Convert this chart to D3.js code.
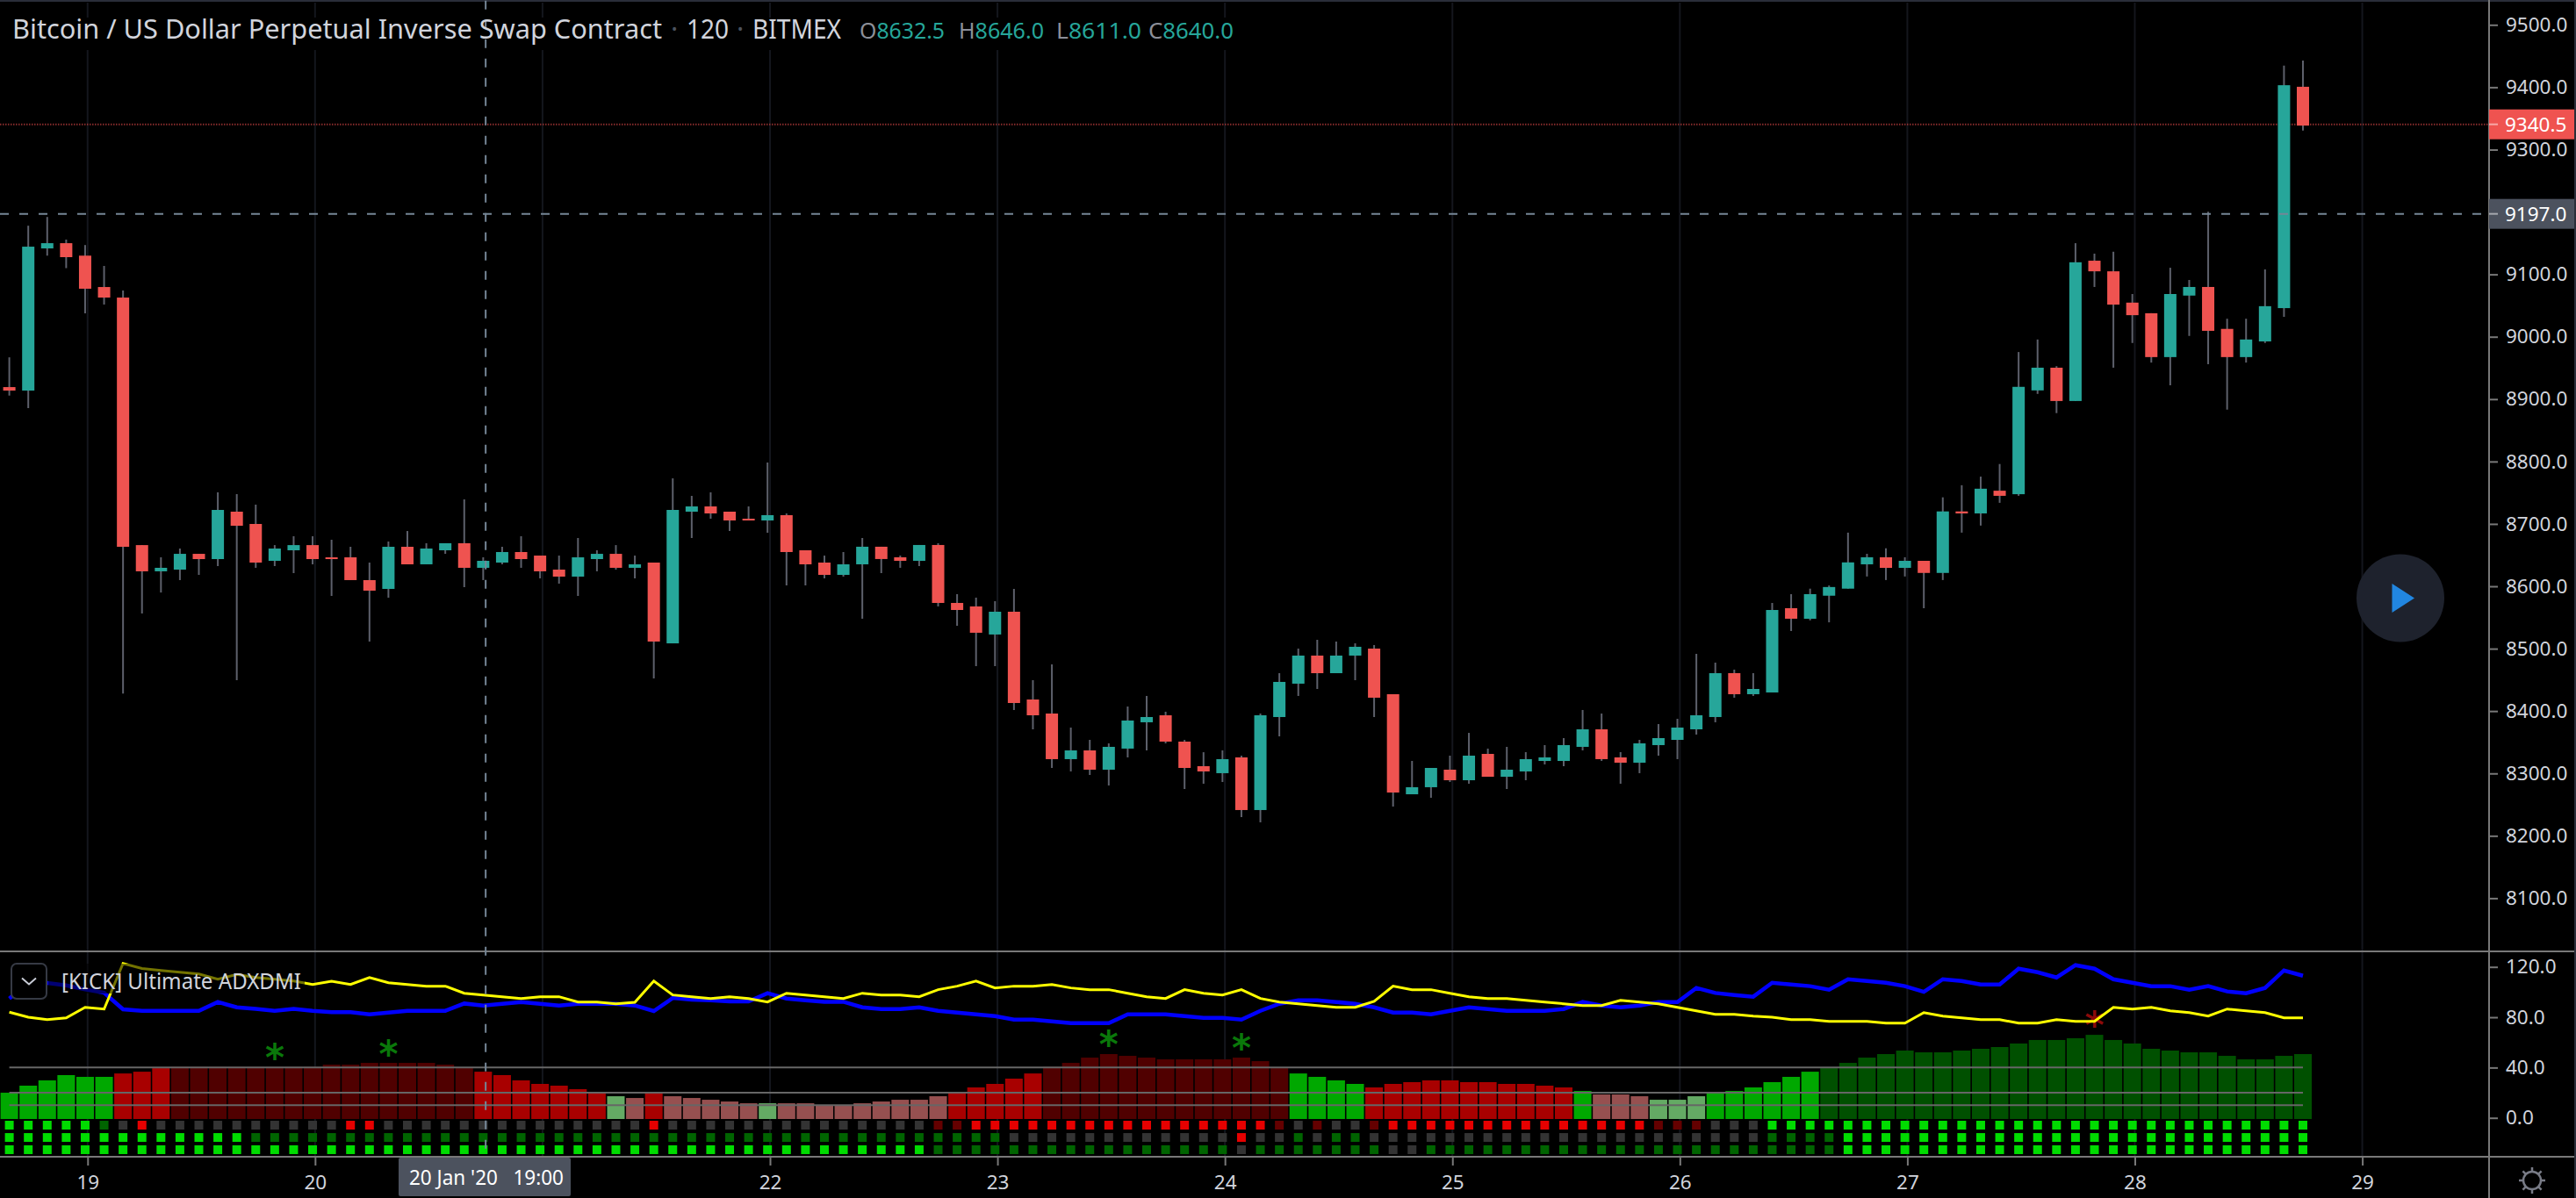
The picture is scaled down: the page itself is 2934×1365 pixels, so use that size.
<!DOCTYPE html>
<html>
<head>
<meta charset="utf-8">
<script src="https://cdn.jsdelivr.net/npm/d3@7"></script>
<style>
html, body { margin: 0; padding: 0; background: #000; }
svg { display: block; }
text { font-family: "Noto Sans", "Lato", sans-serif; }
</style>
</head>
<body>
<div id="chart"></div>
<script>
// candles, oldest first (2h bars)
var opens = [8919.3,8913.7,9141.6,9150,9130,9079.7,9062.8,8666,8624,8626.7,8652,8643.6,8719.6,8699.9,8640.8,8657.7,8666,8646.4,8646.4,8609.9,
	8595.8,8663.3,8635.2,8657.7,8669,8629.6,8638,8654.9,8649.2,8626.7,8615.5,8643.6,8652,8629.6,8638,8508.5,8719.6,8728,8719.6,8708.3,
	8705.5,8714,8657.7,8638,8618.3,8635.2,8663.4,8646.5,8640.8,8666.2,8573.3,8567.7,8522.7,8559.2,8418.5,8396,8322.9,8336.9,8306,8339.8,
	8382,8393.2,8351,8311.6,8300.4,8325.7,8241.3,8390.4,8443.9,8488.9,8460.7,8488.9,8500.1,8427,8266.6,8277.9,8306,8289.1,8331.3,8294.7,
	8303.2,8320,8320,8342.6,8370.7,8325.7,8317.2,8345.4,8353.8,8370.7,8390.4,8460.8,8427,8429.8,8564.9,8547.9,8584.9,8596.2,8635.2,8646.5,
	8629.5,8640.8,8621.4,8720,8716.8,8753.2,8747.6,8914,8950.4,8897,9121.9,9104.9,9054.7,9037.7,8967.4,9066,9079.8,9012.6,8967.4,8992.5,
	9045.9,9400.7];
var closes = [8913.7,9144.4,9150,9127.6,9077,9062.8,8663.3,8624,8629.6,8652,8643.6,8722.4,8697,8638,8660.5,8666,8643.6,8643.6,8609.9,8593,
	8663.3,8635.2,8660.5,8669,8629.6,8640.8,8654.9,8643.6,8624,8615.5,8646.4,8652,8629.6,8635.2,8511.4,8722.4,8728,8716.8,8705.5,8705.5,
	8714,8654.9,8635.2,8618.3,8635.2,8663.4,8643.7,8640.8,8666.2,8573.3,8562,8525.5,8559.2,8412.9,8393.2,8322.9,8336.9,8306,8342.6,8384.8,
	8390.4,8351,8308.8,8303.2,8322.9,8241.3,8393.2,8446.7,8488.9,8460.7,8488.9,8503,8421.4,8269.4,8277.9,8308.8,8289.1,8328.5,8294.7,8306,
	8322.9,8325.7,8345.4,8370.7,8322.9,8317.2,8348.2,8356.6,8373.5,8393.2,8460.7,8427,8435.4,8562,8548,8587.4,8598.8,8638.3,8646.5,8629.5,
	8640.8,8621.4,8720,8716.8,8756.4,8745,8919.7,8950.4,8897,9119.4,9104.9,9051.5,9034.6,8967.4,9068.5,9079.8,9009.5,8967.4,8995.6,9049,
	9403.2,9338.5];
var highs = [8967,9178,9192,9155.7,9147,9113.5,9074,8666,8646.4,8660.5,8652,8750.6,8747.7,8730.9,8666,8680.2,8680.2,8674.6,8663.3,8638,
	8671.8,8688.6,8669,8669,8739.3,8646.4,8663.3,8680.2,8649.2,8649.2,8677.4,8657.7,8666,8649.2,8638,8773,8744.9,8750.6,8719.6,8728,
	8798.4,8716.8,8657.7,8649.2,8654.9,8677.4,8663.4,8649.3,8666.2,8669,8587.4,8581.8,8576.1,8595.8,8449.5,8474.8,8373.5,8353.8,8348.2,8407.3,
	8424.2,8398.9,8353.8,8334,8336.9,8328.5,8396,8460.7,8500.1,8514.2,8511.4,8508.6,8505.8,8427,8320,8308.8,8328.5,8365,8339.8,8342.6,
	8334.1,8345.4,8356.6,8401.7,8396,8334.1,8353.8,8379.1,8387.6,8491.7,8477.6,8466.4,8460.8,8573.3,8587.4,8596.2,8601.3,8686,8652.1,8660.9,
	8646.5,8640.8,8742.6,8762,8775.8,8796,8975.5,8995.6,8952.9,9150,9133.2,9136.3,9068.5,9037.7,9110.6,9091,9200.4,9028.9,9028.9,9108,
	9434.6,9442.8];
var lows = [8905.7,8885.6,9130,9110,9037.5,9051.6,8428,8556.4,8590,8609.9,8618.3,8632.4,8449.5,8629.6,8632.4,8621.1,8635.2,8584.5,8609.9,8511.4,
	8581.7,8635.2,8635.2,8652,8598.6,8609.9,8635.2,8629.6,8612.7,8604.2,8584.5,8624,8626.7,8612.7,8452.3,8508.5,8677.4,8708.3,8688.6,8705.5,
	8685.8,8601.4,8601.4,8612.7,8615.5,8548,8621.1,8629.6,8632.4,8567.7,8536.7,8472,8472,8401.6,8370.7,8308.8,8303.2,8297.5,8280.7,8325.7,
	8336.9,8348.2,8275,8283.5,8286.3,8230,8221.6,8359.4,8424.2,8435.4,8460.7,8449.5,8390.4,8246.9,8266.6,8261,8286.3,8283.5,8294.7,8275,
	8289.1,8314.4,8311.6,8336.9,8320,8283.5,8300.4,8328.5,8322.9,8362.3,8382,8421.4,8424.2,8429.8,8528.3,8545.4,8542.2,8596.2,8615.7,8610,
	8615.7,8564.8,8610,8686,8697.3,8733.8,8745,8908.4,8877.6,8897,9079.8,8950.4,8990,8958.6,8922.2,9001.3,8956,8883.2,8958.6,8990,
	9032,9330.4];

// [KICK] Ultimate ADXDMI pane
var blueLine = [94.9,107.2,107.2,105.3,102.1,99.5,86.3,85.1,85.1,85.1,85.1,92.1,87.9,86.7,85.1,86.7,85.1,84,84,82.3,
	83.7,85.1,85.1,85.1,90.9,89.3,90.7,92.1,90.7,89.3,90.7,90.7,90.7,89.3,84.9,95.3,94,93.5,92.6,92.6,
	99.1,94.9,93.5,92.3,92.3,87.9,86.5,86.5,87.9,85.1,83.7,82.3,80.9,78.1,78.1,76.7,75.3,75.3,75.3,82.3,
	82.3,82.3,80.9,79.5,79.5,78.1,85.1,90.7,93.5,93.5,92.1,90.7,87.9,83.7,83.7,82.3,85.1,87.9,86.5,85.1,
	85.1,85.1,86.5,92.1,89.3,87.9,89.3,92.1,92.1,103.3,99.3,97.7,96.3,107.4,106,104.7,101.9,110.2,108.8,107.4,
	104.7,100.2,110.2,108.8,106,106,118.6,115.8,111.6,121.4,118.6,110.2,107.4,104.7,104.7,101.9,104.7,100.5,99.1,103.3,
	117.2,113];
var yellowLine = [84,80,78.1,79.5,87.9,86.5,122.8,118.8,117.2,115.8,114.4,110.2,114,111.6,110.2,108.8,106,108.6,106,111.6,
	107.4,106,104.7,104.7,99.1,97.7,96.3,94.9,96.3,96.3,92.1,92.1,90.7,91.9,108.8,97.7,96.3,94.9,96.3,94.9,
	92.1,99.1,97.7,96.3,94.9,99.1,97.7,97.7,96.3,101.9,104.7,108.8,103.3,104.7,104.7,106,103.3,101.9,101.9,99.1,
	96.3,94.9,101.9,99.1,97.7,101.9,94.9,92.1,90.7,89.3,87.9,87.9,92.6,104.7,101.9,101.9,99.1,96.3,94.9,94.9,
	93.5,92.1,90.7,89.3,89.3,93.5,92.1,90.7,87.9,85.1,82.3,82.3,80.9,80,78.1,78.1,76.7,76.7,76.7,75.3,
	75.3,83.7,80.9,79.5,78.1,78.1,75.3,75.3,78.1,76.7,76.7,87.9,86.5,87.9,85.1,83.7,80.9,86.5,85.1,83.7,
	79.5,79.5];
var histValues = [20,25.6,29.8,34,32.6,32.6,35.3,36.7,39.5,40.5,40.5,40.5,40.5,40.5,40.5,40.5,40.5,42.3,42.3,43.7,
	43.7,43.7,43.7,42.3,39.5,36.7,34,29.8,27,25.6,22.8,20,17.2,15.8,20,17.2,15.8,14.4,13,11.6,
	11.6,11.6,11.6,10.2,10.2,11.6,13,14.4,14.4,17.2,20,24.2,27,31.2,35.3,40.5,43.7,47.9,50.7,49.3,
	47.9,46.5,46.5,46.5,46.5,47.9,45.1,39.5,35.3,32.6,29.8,27,24.2,27,28.4,29.8,29.8,28.4,28.4,27,
	27,25.6,24.2,21.4,18.6,18.6,17.2,14.4,14.4,17.2,20,21.4,24.2,28.4,32.6,36.7,39.5,43.7,47.9,50.7,
	53.5,52.1,52.1,53.5,54.9,56.3,59.1,61.9,61.9,63.3,66,61.9,59.1,54.9,53.5,52.1,52.1,49.3,46.5,46.5,
	49.3,50.7];
// G green, E dark green, R red, D dark red, A faded red, B faded green
var histStates = ("GGGGGGRRRD" + "DDDDDDDDDD" + "DDDDDRRRRR" + "RRBARAAAAA" + "BAAAAAAAAA" + "RRRRRDDDDD" +
	"DDDDDDDDGG" + "GGRRRRRRRR" + "RRRGAAABBB" + "GGGGGGEEEE" + "EEEEEEEEEE" + "EEEEEEEEEE" + "EE").split("");
// the three rows of squares under the histogram
// G green, g dark green, K grey, R red, r dark red
var rowOne = ("GGGGGgKRKK" + "KKKKKKKKRR" + "KKKKKKKKKK" + "KKKKRKKKKK" + "KKKKKKKKKr" + "rRRRRRRRRR" +
	"RRRRRRRrKr" + "KKrRRRRRRR" + "RRRRRRRrrr" + "KKKGGGGGGG" + "GGGGGGGGGG" + "GGGGGGGGGG" + "GG").split("");
var rowTwo = ("GGGGGGGGGG" + "GGGggggggg" + "gggggggggg" + "gggggggggg" + "gggggggggg" + "gggKKKKKKK" +
	"KKKKKRKKgK" + "ggKKKKKKKK" + "KKKKKKKKKK" + "KKKggggGGG" + "GGGGGGGGGG" + "GGGGGGGGGG" + "GG").split("");
var rowThree = ("GGGGGGGGGG" + "GGGGGGGGGG" + "GGGGGGGGGG" + "GGGGGGGGGG" + "GGGGGGGGGg" + "gggggggggg" +
	"gggggKgggg" + "gggKKggggg" + "gggggggggg" + "gggggggGGG" + "GGGGGGGGGG" + "GGGGGGGGGG" + "GG").split("");
var rowLevels = [-5.8, -15.6, -25.3];
var starIndex = [14, 20, 58, 65, 110];
var starLevel = [53.7, 56.5, 63.7, 60.9, 79.3];
var starColor = ["#0a780a", "#0a780a", "#0a780a", "#0a780a", "#8c0a0a"];
var hLevels = [40, 20, 10];

// axes
var priceTicks = [8100,8200,8300,8400,8500,8600,8700,8800,8900,9000,9100,9200,9300,9400,9500];
var adxTicks = [0, 40, 80, 120];
var dayLabels = ["19","20","21","22","23","24","25","26","27","28","29"];
var dayBars = [4,16,28,40,52,64,76,88,100,112,124];
var lastPrice = 9340.5;
var crossPrice = 9197;
var crossBar = 25;

var histColors = {G:"#00a800", E:"#005000", R:"#a80000", D:"#500000", A:"#965050", B:"#64aa64"};
var squareColors = {G:"#00dc00", g:"#006400", K:"#333333", R:"#e60000", r:"#640000"};

var width = 2934, height = 1365;
var axisX = 2835, timeY = 1318, paneY = 1084;
var tickShift = 0.13; // day lines sit a little right of the bars

var x = d3.scaleLinear().domain([0, 121]).range([10.6, 2623]);
var yPrice = d3.scaleLinear().domain([8100, 9500]).range([1023.4, 28.3]);
var yAdx = d3.scaleLinear().domain([0, 120]).range([1273.7, 1101.7]);

var svg = d3.select("#chart").append("svg").attr("width", width).attr("height", height);
svg.append("rect").attr("width", width).attr("height", height).attr("fill", "#000");

// day grid
svg.append("g").selectAll("line").data(dayBars).join("line")
	.attr("x1", function(d) { return x(d + tickShift); })
	.attr("x2", function(d) { return x(d + tickShift); })
	.attr("y1", 3).attr("y2", timeY)
	.attr("stroke", "#14161d").attr("stroke-width", 2);

// legend backing hides the grid under the title
svg.append("rect").attr("x", 0).attr("y", 20).attr("width", 1420).attr("height", 37).attr("fill", "#000");

// last price line goes behind the candles
svg.append("line").attr("x1", 0).attr("x2", axisX)
	.attr("y1", yPrice(lastPrice)).attr("y2", yPrice(lastPrice))
	.attr("stroke", "#b83c3c").attr("stroke-width", 2).attr("stroke-dasharray", "1.5 1.5").attr("opacity", 0.75);

// candles
var bars = d3.range(opens.length);
svg.append("g").selectAll("line").data(bars).join("line")
	.attr("x1", function(i) { return x(i); })
	.attr("x2", function(i) { return x(i); })
	.attr("y1", function(i) { return yPrice(highs[i]); })
	.attr("y2", function(i) { return yPrice(lows[i]); })
	.attr("stroke", "#5d606b").attr("stroke-width", 2);
svg.append("g").selectAll("rect").data(bars).join("rect")
	.attr("x", function(i) { return x(i) - 7; })
	.attr("width", 14)
	.attr("y", function(i) { return yPrice(Math.max(opens[i], closes[i])); })
	.attr("height", function(i) { return Math.max(2, Math.abs(yPrice(opens[i]) - yPrice(closes[i]))); })
	.attr("fill", function(i) { return closes[i] >= opens[i] ? "#26a69a" : "#ef5350"; });

// histogram
svg.append("g").selectAll("rect").data(bars).join("rect")
	.attr("x", function(i) { return x(i) - 10; })
	.attr("width", 20)
	.attr("y", function(i) { return yAdx(histValues[i]); })
	.attr("height", function(i) { return yAdx(-0.9) - yAdx(histValues[i]); })
	.attr("fill", function(i) { return histColors[histStates[i]]; });

svg.append("g").selectAll("line").data(hLevels).join("line")
	.attr("x1", x(0)).attr("x2", x(121))
	.attr("y1", function(d) { return yAdx(d); })
	.attr("y2", function(d) { return yAdx(d); })
	.attr("stroke", "#666666").attr("stroke-width", 2);

// signal stars
svg.append("g").selectAll("text").data(starIndex).join("text")
	.attr("x", function(d) { return x(d); })
	.attr("y", function(d, n) { return yAdx(starLevel[n]) + 23; })
	.attr("text-anchor", "middle")
	.attr("fill", function(d, n) { return starColor[n]; })
	.style("font-family", "'DejaVu Sans'").style("font-size", "42px").style("font-weight", "bold")
	.text("*");

// adx / dmi lines
var adxLine = d3.line().x(function(d, i) { return x(i); }).y(function(d) { return yAdx(d); });
svg.append("path").attr("d", adxLine(blueLine)).attr("fill", "none").attr("stroke", "#0000ff").attr("stroke-width", 4.5);
svg.append("path").attr("d", adxLine(yellowLine)).attr("fill", "none").attr("stroke", "#ffff00").attr("stroke-width", 3);

// squares
[rowOne, rowTwo, rowThree].forEach(function(row, r) {
	svg.append("g").selectAll("rect").data(row).join("rect")
		.attr("x", function(d, i) { return x(i) - 5; })
		.attr("width", 10)
		.attr("y", yAdx(rowLevels[r]) - 5)
		.attr("height", 10)
		.attr("fill", function(d) { return squareColors[d]; });
});

// frame
svg.append("rect").attr("x", 0).attr("y", 0).attr("width", width).attr("height", 2).attr("fill", "#2a2e39");
svg.append("rect").attr("x", 2932).attr("y", 0).attr("width", 2).attr("height", height).attr("fill", "#2a2e39");
svg.append("line").attr("x1", 0).attr("x2", 2932).attr("y1", paneY).attr("y2", paneY).attr("stroke", "#787878").attr("stroke-width", 2);
svg.append("line").attr("x1", 0).attr("x2", 2932).attr("y1", timeY).attr("y2", timeY).attr("stroke", "#787878").attr("stroke-width", 2);
svg.append("line").attr("x1", axisX).attr("x2", axisX).attr("y1", 0).attr("y2", height).attr("stroke", "#787878").attr("stroke-width", 2);

// axes
function styleAxis(g) {
	g.select(".domain").remove();
	g.selectAll(".tick line").attr("stroke", "#787878").attr("stroke-width", 2);
	g.selectAll(".tick text").attr("fill", "#d1d4dc").style("font-size", "22.5px").style("font-family", "Noto Sans");
}
svg.append("g").attr("transform", "translate(" + axisX + ",0)")
	.call(d3.axisRight(yPrice).tickValues(priceTicks).tickFormat(d3.format(".1f")).tickSize(10).tickPadding(9))
	.call(styleAxis);
svg.append("g").attr("transform", "translate(" + axisX + ",0)")
	.call(d3.axisRight(yAdx).tickValues(adxTicks).tickFormat(d3.format(".1f")).tickSize(10).tickPadding(9))
	.call(styleAxis);
svg.append("g").attr("transform", "translate(0," + timeY + ")")
	.call(d3.axisBottom(x).tickValues(dayBars.map(function(d) { return d + tickShift; }))
		.tickFormat(function(d, n) { return dayLabels[n] == "21" ? "" : dayLabels[n]; }).tickSize(10).tickPadding(11))
	.call(styleAxis);

// crosshair
var crossX = x(crossBar + tickShift);
svg.append("line").attr("x1", crossX).attr("x2", crossX).attr("y1", 0.7).attr("y2", timeY)
	.attr("stroke", "#758696").attr("stroke-width", 2).attr("stroke-dasharray", "10 12");
svg.append("line").attr("x1", 0).attr("x2", axisX).attr("y1", yPrice(crossPrice)).attr("y2", yPrice(crossPrice))
	.attr("stroke", "#758696").attr("stroke-width", 2).attr("stroke-dasharray", "10 12");

// price and time tags
function priceTag(price, fill) {
	var yy = yPrice(price);
	svg.append("rect").attr("x", axisX).attr("y", yy - 17).attr("width", 97).attr("height", 34).attr("fill", fill);
	svg.append("line").attr("x1", axisX).attr("x2", axisX + 10).attr("y1", yy).attr("y2", yy).attr("stroke", "#fff").attr("stroke-opacity", 0.5).attr("stroke-width", 2);
	svg.append("text").attr("x", axisX + 18).attr("y", yy + 8.5).attr("fill", "#fff").style("font-size", "22.5px").text(d3.format(".1f")(price));
}
priceTag(lastPrice, "#ef5350");
priceTag(crossPrice, "#4c525e");

svg.append("rect").attr("x", 454).attr("y", 1319).attr("width", 196).attr("height", 44).attr("rx", 2).attr("fill", "#4c525e");
svg.append("text").attr("x", 466).attr("y", 1350).attr("fill", "#fff").style("font-size", "23px")
	.attr("textLength", 176).attr("lengthAdjust", "spacingAndGlyphs").attr("xml:space", "preserve").text("20 Jan '20   19:00");

// title legend
function titlePart(str, px, len, fill, size) {
	var t = svg.append("text").attr("x", px).attr("y", 44).attr("fill", fill).style("font-size", size + "px").text(str);
	if (len) t.attr("textLength", len).attr("lengthAdjust", "spacingAndGlyphs");
}
titlePart("Bitcoin / US Dollar Perpetual Inverse Swap Contract", 14, 740, "#d1d4dc", 31);
titlePart("\u00b7", 764, 0, "#4c525e", 31);
titlePart("120", 782, 48, "#d1d4dc", 31);
titlePart("\u00b7", 839, 0, "#4c525e", 31);
titlePart("BITMEX", 857, 101, "#d1d4dc", 31);
var ohlcLabels = ["O", "H", "L", "C"];
var ohlcValues = ["8632.5", "8646.0", "8611.0", "8640.0"];
var ohlcX = [979, 1092, 1203, 1308];
ohlcLabels.forEach(function(l, n) {
	var t = svg.append("text").attr("x", ohlcX[n]).attr("y", 44).style("font-size", "26px")
		.attr("textLength", 97).attr("lengthAdjust", "spacingAndGlyphs");
	t.append("tspan").attr("fill", "#8c8f98").text(l);
	t.append("tspan").attr("fill", "#26a69a").text(ohlcValues[n]);
});

// indicator legend
svg.append("rect").attr("x", 55).attr("y", 1098).attr("width", 292).attr("height", 34).attr("fill", "#000").attr("opacity", 0.55);
svg.append("rect").attr("x", 13).attr("y", 1098).attr("width", 40).attr("height", 40).attr("rx", 6)
	.attr("fill", "#000").attr("stroke", "#363a45").attr("stroke-width", 2);
svg.append("path").attr("d", "M25,1114.5L33,1121.5L41,1114.5").attr("fill", "none").attr("stroke", "#c8ccd6").attr("stroke-width", 2);
svg.append("text").attr("x", 70).attr("y", 1127).attr("fill", "#d1d4dc").style("font-size", "26px")
	.attr("textLength", 273).attr("lengthAdjust", "spacingAndGlyphs").text("[KICK] Ultimate ADXDMI");

// play button
svg.append("circle").attr("cx", 2734).attr("cy", 681.5).attr("r", 50).attr("fill", "#1e222d");
svg.append("path").attr("d", "M2724.5,665L2750,681.5L2724.5,698Z").attr("fill", "#2186e0");

// settings gear
var gear = svg.append("g").attr("transform", "translate(2884,1345)").attr("stroke", "#787b86").attr("stroke-width", 2.5).attr("fill", "none");
gear.append("circle").attr("r", 10);
d3.range(8).forEach(function(n) {
	var a = n * Math.PI / 4;
	gear.append("line").attr("x1", 10 * Math.cos(a)).attr("y1", 10 * Math.sin(a)).attr("x2", 15 * Math.cos(a)).attr("y2", 15 * Math.sin(a));
});
</script>
</body>
</html>
